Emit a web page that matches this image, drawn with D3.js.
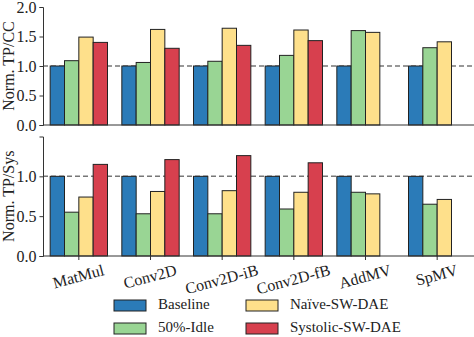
<!DOCTYPE html>
<html>
<head>
<meta charset="utf-8">
<script src="https://cdn.jsdelivr.net/npm/d3@7"></script>
<style>
  body { margin: 0; background: #fff; }
  text { font-family: "Liberation Serif", "DejaVu Serif", serif; fill: #222; }
</style>
</head>
<body>
<div id="box"></div>
<script>
var categories = ["MatMul", "Conv2D", "Conv2D-iB", "Conv2D-fB", "AddMV", "SpMV"];
var seriesNames = ["Baseline", "50%-Idle", "Naïve-SW-DAE", "Systolic-SW-DAE"];
var colors = ["#2b7bb8", "#99d594", "#fee08b", "#d7404e"];
// Norm. TP/CC (null = no bar)
var tpcc = [
  [1.00, 1.09, 1.49, 1.40],
  [1.00, 1.06, 1.62, 1.30],
  [1.00, 1.08, 1.64, 1.35],
  [1.00, 1.18, 1.61, 1.43],
  [1.00, 1.60, 1.57, null],
  [1.00, 1.31, 1.41, null]
];
// Norm. TP/Sys
var tpsys = [
  [1.00, 0.55, 0.74, 1.15],
  [1.00, 0.53, 0.81, 1.21],
  [1.00, 0.53, 0.82, 1.26],
  [1.00, 0.59, 0.80, 1.17],
  [1.00, 0.80, 0.78, null],
  [1.00, 0.65, 0.71, null]
];
var ticksTop = [0, 0.5, 1.0, 1.5, 2.0];
var ticksBottom = [0, 0.5, 1.0];

var W = 474, H = 337;
var svg = d3.select("#box").append("svg").attr("width", W).attr("height", H);

var x0 = d3.scaleBand().domain(categories).range([43, 473]).paddingInner(0.2).paddingOuter(0.1);
var x1 = d3.scaleBand().domain(d3.range(4)).range([0, x0.bandwidth()]);

function panel(data, ymax, ticks, yTop, yBot, label, showX) {
  var y = d3.scaleLinear().domain([0, ymax]).range([yBot, yTop]);
  var g = svg.append("g");

  // reference line at 1.0
  g.append("line")
    .attr("x1", 43).attr("x2", W)
    .attr("y1", y(1)).attr("y2", y(1))
    .attr("stroke", "#777").attr("stroke-width", 1.5)
    .attr("stroke-dasharray", "5,3");

  var groups = g.selectAll("g.grp").data(data).enter().append("g")
    .attr("transform", function (d, i) { return "translate(" + x0(categories[i]) + ",0)"; });
  groups.selectAll("rect")
    .data(function (d) { return d.map(function (v, j) { return {v: v, j: j}; }).filter(function (e) { return e.v != null; }); })
    .enter().append("rect")
    .attr("x", function (e) { return x1(e.j); })
    .attr("width", x1.bandwidth())
    .attr("y", function (e) { return y(e.v); })
    .attr("height", function (e) { return y(0) - y(e.v); })
    .attr("fill", function (e) { return colors[e.j]; })
    .attr("stroke", "#222").attr("stroke-width", 1);

  var yAxis = d3.axisLeft(y).tickValues(ticks).tickFormat(d3.format(".1f")).tickSize(3.5).tickPadding(3);
  var ya = g.append("g").attr("transform", "translate(43,0)").call(yAxis);
  ya.select(".domain").attr("stroke", "#333");
  ya.selectAll(".tick line").attr("stroke", "#333");
  ya.selectAll("text").style("font-size", "16px").attr("fill", "#222");

  var xAxis = d3.axisBottom(x0).tickSize(showX ? 4 : 0).tickFormat("");
  var xa = g.append("g").attr("transform", "translate(0," + yBot + ")").call(xAxis);
  xa.select(".domain").attr("d", "M43,0H" + W).attr("stroke", "#333");
  xa.selectAll(".tick line").attr("stroke", "#333");

  if (showX) {
    var ang = 15 * Math.PI / 180;
    var top = yBot + 9;
    g.selectAll("text.xl").data(categories).enter().append("text")
      .attr("class", "xl")
      .attr("text-anchor", "middle")
      .attr("dominant-baseline", "middle")
      .style("font-size", "16px")
      .text(function (d) { return d; })
      .attr("transform", function (d) {
        var w = this.getComputedTextLength(), h = 13;
        var cy = top + (w * Math.sin(ang) + h * Math.cos(ang)) / 2;
        return "translate(" + (x0(d) + x0.bandwidth() / 2) + "," + cy + ") rotate(-15)";
      });
  }

  g.append("text")
    .attr("transform", "translate(14," + ((yTop + yBot) / 2) + ") rotate(-90)")
    .attr("text-anchor", "middle")
    .style("font-size", "16px")
    .text(label);
}

panel(tpcc, 2.0, ticksTop, 7, 125, "Norm. TP/CC", false);
panel(tpsys, 1.5, ticksBottom, 136.5, 256, "Norm. TP/Sys", true);

// legend
var legPos = [[114, 300], [114, 323], [246, 300], [246, 323]];
var leg = svg.append("g");
seriesNames.forEach(function (name, j) {
  var p = legPos[j];
  leg.append("rect").attr("x", p[0]).attr("y", p[1]).attr("width", 32).attr("height", 11)
    .attr("fill", colors[j]).attr("stroke", "#222").attr("stroke-width", 1);
  leg.append("text").attr("x", p[0] + 44).attr("y", p[1] + 6)
    .attr("dominant-baseline", "middle").style("font-size", "15px")
    .text(name);
});
</script>
</body>
</html>
